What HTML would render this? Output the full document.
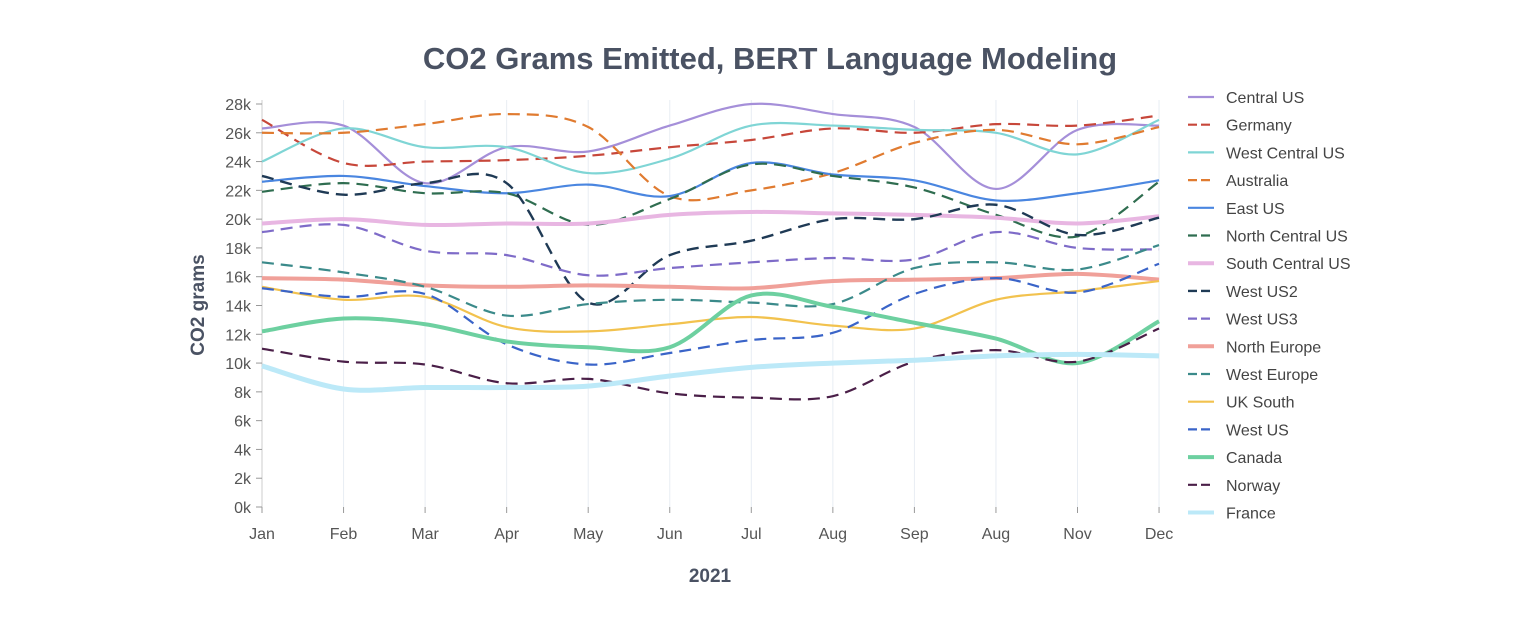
<!DOCTYPE html>
<html><head><meta charset="utf-8"><style>
body{margin:0;background:#fff;}
svg text{font-family:"Liberation Sans",sans-serif;}
</style></head><body>
<svg id="s" width="1536" height="615" xmlns="http://www.w3.org/2000/svg">
<rect width="1536" height="615" fill="#fff"/>
<text x="770" y="69" text-anchor="middle" font-size="31" font-weight="bold" fill="#4a5263">CO2 Grams Emitted, BERT Language Modeling</text>
<text transform="translate(204,305) rotate(-90)" text-anchor="middle" font-size="19" font-weight="bold" fill="#4a5263">CO2 grams</text>
<text x="710" y="582" text-anchor="middle" font-size="19" font-weight="bold" fill="#4a5263">2021</text>
<g id="grid"></g><g id="lines"></g><g id="leg"></g>
</svg>
<script>
var NS="http://www.w3.org/2000/svg",s=document.getElementById('s');
function el(p,t,a,txt){var e=document.createElementNS(NS,t);for(var k in a)e.setAttribute(k,a[k]);if(txt!=null)e.textContent=txt;document.getElementById(p).appendChild(e);return e;}
var X=function(i){return 262+i*81.55},Y=function(v){return 507-v*14.393};
var months=["Jan","Feb","Mar","Apr","May","Jun","Jul","Aug","Sep","Aug","Nov","Dec"];
for(var i=0;i<12;i++){el('grid','line',{x1:X(i),x2:X(i),y1:100,y2:507,stroke:"#e8edf3","stroke-width":1});
el('grid','line',{x1:X(i),x2:X(i),y1:507,y2:513,stroke:"#999","stroke-width":1});
el('grid','text',{x:X(i),y:539,"text-anchor":"middle","font-size":16,fill:"#555"},months[i]);}
el('grid','line',{x1:262,x2:262,y1:100,y2:507,stroke:"#ccc","stroke-width":1});
for(var k=0;k<=28;k+=2){el('grid','line',{x1:256,x2:262,y1:Y(k),y2:Y(k),stroke:"#999"});
el('grid','text',{x:251,y:Y(k)+6,"text-anchor":"end","font-size":16,fill:"#555"},k+"k");}
var S=[
["Central US","#a58fd9",0,2.2,[26.3,26.5,22.5,25.0,24.7,26.5,28.0,27.3,26.4,22.1,26.2,26.5]],
["Germany","#c7473a",1,2.2,[26.9,23.9,24.0,24.1,24.4,25.0,25.5,26.3,26.0,26.6,26.5,27.2]],
["West Central US","#7fd5d5",0,2.2,[24.0,26.3,25.0,25.0,23.2,24.2,26.5,26.5,26.2,26.0,24.5,26.9]],
["Australia","#e07b30",1,2.2,[26.0,26.0,26.6,27.3,26.4,21.6,22.0,23.2,25.3,26.2,25.2,26.4]],
["East US","#4a86e0",0,2.2,[22.6,23.0,22.3,21.8,22.4,21.6,23.9,23.1,22.7,21.3,21.8,22.7]],
["North Central US","#2f6d50",1,2.2,[21.9,22.5,21.8,21.8,19.6,21.4,23.8,23.0,22.2,20.3,18.8,22.6]],
["South Central US","#e8b6e2",0,4,[19.7,20.0,19.6,19.7,19.7,20.3,20.5,20.4,20.3,20.1,19.7,20.2]],
["West US2","#1f3a55",1,2.4,[23.0,21.7,22.5,22.5,14.2,17.5,18.5,20.0,20.0,21.0,18.9,20.1]],
["West US3","#7e6bc8",1,2.2,[19.1,19.6,17.8,17.5,16.1,16.6,17.0,17.3,17.2,19.1,18.0,17.9]],
["North Europe","#f0a099",0,4,[15.9,15.8,15.4,15.3,15.4,15.3,15.2,15.7,15.8,15.9,16.2,15.8]],
["West Europe","#3b8a8a",1,2.2,[17.0,16.3,15.3,13.3,14.1,14.4,14.2,14.1,16.6,17.0,16.5,18.2]],
["UK South","#f2c24e",0,2.2,[15.3,14.4,14.6,12.5,12.2,12.7,13.2,12.6,12.4,14.4,15.0,15.7]],
["West US","#3a64c8",1,2.2,[15.2,14.6,14.8,11.3,9.9,10.7,11.6,12.1,14.8,15.9,14.9,16.9]],
["Canada","#6dd0a0",0,4,[12.2,13.1,12.7,11.5,11.1,11.1,14.7,13.9,12.8,11.7,10.0,12.9]],
["Norway","#4a1f48",1,2.2,[11.0,10.1,9.9,8.6,8.9,7.9,7.6,7.7,10.1,10.9,10.1,12.4]],
["France","#bce9f8",0,5,[9.8,8.2,8.3,8.3,8.4,9.1,9.7,10.0,10.2,10.5,10.6,10.5]]];
function path(v){var p=v.map(function(d,i){return[X(i),Y(d)]});var d="M"+p[0][0]+","+p[0][1];
for(var i=0;i<p.length-1;i++){var p0=p[i-1]||p[i],p1=p[i],p2=p[i+1],p3=p[i+2]||p2,t=6;
d+=" C"+(p1[0]+(p2[0]-p0[0])/t)+","+(p1[1]+(p2[1]-p0[1])/t)+" "+(p2[0]-(p3[0]-p1[0])/t)+","+(p2[1]-(p3[1]-p1[1])/t)+" "+p2[0]+","+p2[1];}return d;}
S.forEach(function(r,j){var a={d:path(r[4]),fill:"none",stroke:r[1],"stroke-width":r[3],"stroke-linecap":"butt"};
if(r[2])a["stroke-dasharray"]="12 7";el('lines','path',a);
var y=97+j*27.7;var b={x1:1188,x2:1214,y1:y,y2:y,stroke:r[1],"stroke-width":Math.min(r[3],4)};if(r[2])b["stroke-dasharray"]="9 4";el('leg','line',b);
el('leg','text',{x:1226,y:y+6,"font-size":16,fill:"#444"},r[0]);});
</script>
</body></html>
